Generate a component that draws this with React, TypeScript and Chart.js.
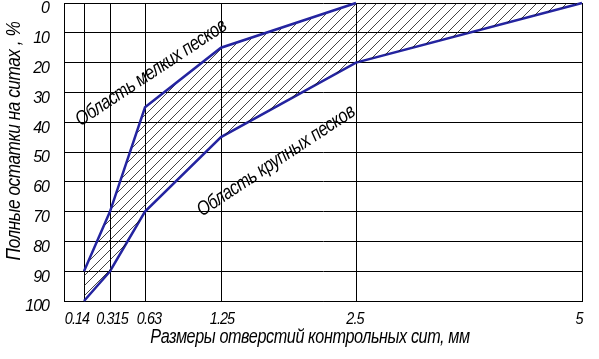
import React, { useEffect, useRef } from "react";
import Chart from "chart.js/auto";

// Sieve sizes (tick labels) and their positions along the chart's non-uniform x axis
const sieveSizes = ["0.14", "0.315", "0.63", "1.25", "2.5", "5"];
const sieveAxisPos = [20, 46, 81, 157, 292, 518];
// Total residue on sieves, %
const fineBoundary = [90, 70, 35, 15, 0, 0];
const coarseBoundary = [100, 90, 70, 45, 20, 0];
const yTicks = [0, 10, 20, 30, 40, 50, 60, 70, 80, 90, 100];

const yTitle = "Полные остатки на ситах , %";
const xTitle = "Размеры отверстий контрольных сит, мм";
const fineLabel = "Область мелких песков";
const coarseLabel = "Область крупных песков";

// small horizontal nudges (px) of the x tick labels, as in the original drawing
const xLabelNudge = [-7, 2, 4, 1, -1, -3];

const BLUE = "#2424a0";
const FONT = '"Liberation Sans", Arial, sans-serif';

export default function App() {
  const ref = useRef<HTMLCanvasElement>(null);
  useEffect(() => {
    const canvas = ref.current!;
    const pc = document.createElement("canvas");
    pc.width = 10;
    pc.height = 10;
    const g = pc.getContext("2d")!;
    g.strokeStyle = "#111";
    g.lineWidth = 0.8;
    g.beginPath();
    g.moveTo(0, 10);
    g.lineTo(10, 0);
    g.moveTo(-1, 1);
    g.lineTo(1, -1);
    g.moveTo(9, 11);
    g.lineTo(11, 9);
    g.stroke();
    const hatch = g.createPattern(pc, "repeat");

    const textPlugin = {
      id: "texts",
      beforeDraw(chart: any) {
        chart.ctx.letterSpacing = "-1px";
      },
      afterDraw(chart: any) {
        const ctx = chart.ctx as CanvasRenderingContext2D;
        const draw = (t: string, x: number, y: number, ang: number, size: number, sx: number, ls = "-0.5px") => {
          ctx.save();
          ctx.translate(x, y);
          ctx.rotate(ang);
          ctx.scale(sx, 1);
          ctx.font = `italic ${size}px ${FONT}`;
          ctx.fillStyle = "#000";
          ctx.textAlign = "center";
          ctx.textBaseline = "middle";
          (ctx as any).letterSpacing = ls;
          ctx.fillText(t, 0, 0);
          ctx.restore();
        };
        const xs = chart.scales.x;
        sieveAxisPos.forEach((p, i) => {
          draw(sieveSizes[i], xs.getPixelForValue(p) + xLabelNudge[i], 320, 0, 16, 0.9, "-1px");
        });
        draw(yTitle, 14, 141, -Math.PI / 2, 20, 0.86);
        draw(xTitle, 310, 337, 0, 20, 0.81);
        draw(fineLabel, 151, 73, (-33.5 * Math.PI) / 180, 20, 0.82);
        draw(coarseLabel, 276, 161, (-33.5 * Math.PI) / 180, 20, 0.82);
      },
    };

    const chart = new Chart(canvas, {
      type: "line",
      data: {
        datasets: [
          {
            data: sieveAxisPos.map((x, i) => ({ x, y: fineBoundary[i] })),
            borderColor: BLUE,
            borderWidth: 2.5,
            pointRadius: 0,
            tension: 0,
            fill: "+1",
            backgroundColor: hatch as any,
            clip: 4,
            segment: {
              borderColor: (c: any) => (c.p0DataIndex >= 4 ? "rgba(0,0,0,0)" : BLUE),
            },
          },
          {
            data: sieveAxisPos.map((x, i) => ({ x, y: coarseBoundary[i] })),
            borderColor: BLUE,
            borderWidth: 2.5,
            pointRadius: 0,
            tension: 0,
            fill: false,
            clip: 4,
          },
        ],
      },
      options: {
        animation: false,
        responsive: true,
        maintainAspectRatio: false,
        layout: { padding: { left: 0, top: 3, right: 17, bottom: 0 } },
        plugins: { legend: { display: false }, tooltip: { enabled: false } },
        scales: {
          x: {
            type: "linear",
            min: 0,
            max: sieveAxisPos[sieveAxisPos.length - 1],
            afterBuildTicks: (s: any) => {
              s.ticks = sieveAxisPos.map((v) => ({ value: v }));
            },
            afterFit: (s: any) => {
              s.height = 58;
              s.paddingLeft = 0;
              s.paddingRight = 0;
            },
            grid: { color: "#000", lineWidth: 1, drawTicks: false },
            border: { color: "#000", width: 1 },
            ticks: { display: false, autoSkip: false },
          },
          y: {
            type: "linear",
            reverse: true,
            min: 0,
            max: 100,
            afterBuildTicks: (s: any) => {
              s.ticks = yTicks.map((v) => ({ value: v }));
            },
            afterFit: (s: any) => {
              s.width = 64;
              s.paddingTop = 0;
              s.paddingBottom = 0;
            },
            grid: { color: "#000", lineWidth: 1, drawTicks: false },
            border: { color: "#000", width: 1 },
            ticks: {
              padding: 15,
              labelOffset: 6,
              color: "#000",
              font: { family: FONT, size: 16, style: "italic" },
              callback: (v: any) => String(v),
            },
          },
        },
      },
      plugins: [textPlugin],
    });
    return () => chart.destroy();
  }, []);
  return (
    <div style={{ position: "absolute", left: 0, top: 0, width: 599, height: 359, background: "#fff" }}>
      <canvas ref={ref} />
    </div>
  );
}
